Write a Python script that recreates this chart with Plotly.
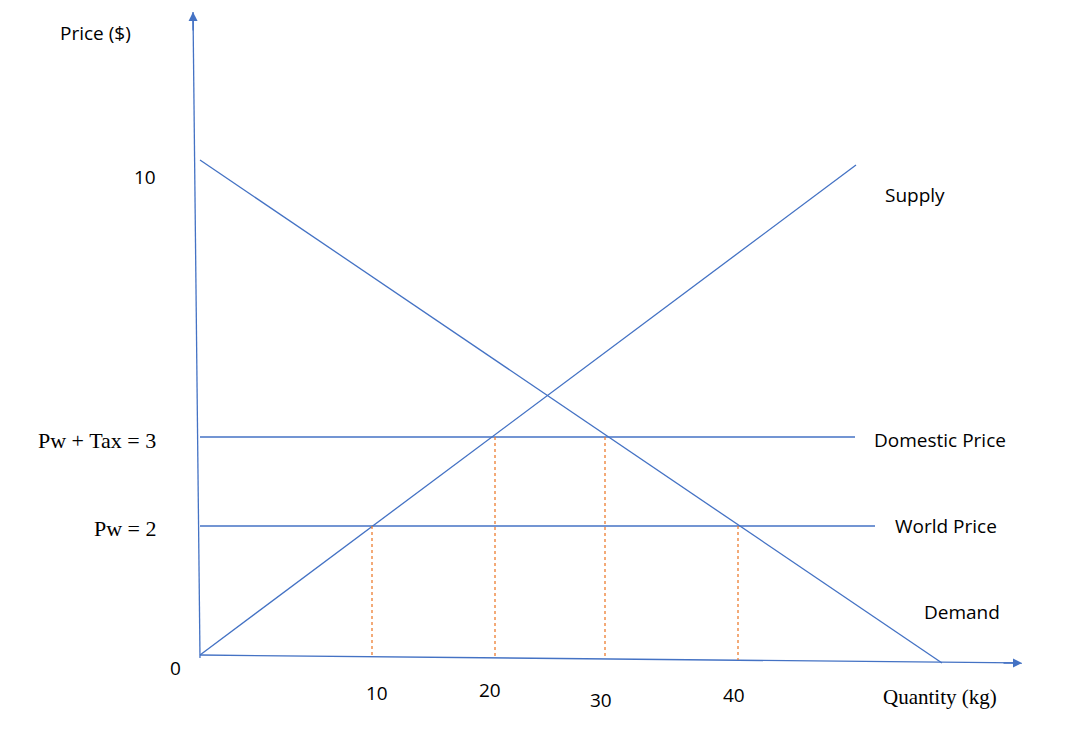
import plotly.graph_objects as go

BLUE = "#4472C4"
ORANGE = "#ED7D31"

# diagram coordinates (screen-like units)
supply_x = [200, 856]; supply_y = [655, 165]
demand_x = [200, 942]; demand_y = [160, 663]
domestic_x = [200, 855]; domestic_y = [437, 437]
world_x = [200, 875]; world_y = [526, 526]
yaxis_x = [200, 193]; yaxis_y = [658, 12]
xaxis_x = [200, 1022]; xaxis_y = [655, 663]
dash_x = [372, 495, 605, 738]
dash_top = [526, 437, 437, 526]
dash_bot = [655, 657, 658, 660]

fig = go.Figure()
def line(x, y, color=BLUE, dash="solid", w=1.3):
    fig.add_trace(go.Scatter(x=x, y=y, mode="lines", line=dict(color=color, width=w, dash=dash),
                             hoverinfo="skip", showlegend=False))

for xs, ys in [(supply_x, supply_y), (demand_x, demand_y), (domestic_x, domestic_y),
               (world_x, world_y), (yaxis_x, yaxis_y), (xaxis_x, xaxis_y)]:
    line(xs, ys)
for x, t, b in zip(dash_x, dash_top, dash_bot):
    line([x, x], [t, b], ORANGE, "dot", 1.3)

fig.add_annotation(x=yaxis_x[1], y=yaxis_y[1], ax=yaxis_x[1]+0.2, ay=yaxis_y[1]+20, xref="x", yref="y",
                   axref="x", ayref="y", showarrow=True, arrowhead=2, arrowsize=1.2, arrowwidth=1.5,
                   arrowcolor=BLUE, text="")
fig.add_annotation(x=xaxis_x[1], y=xaxis_y[1], ax=xaxis_x[1]-20, ay=xaxis_y[1], xref="x", yref="y",
                   axref="x", ayref="y", showarrow=True, arrowhead=2, arrowsize=1.2, arrowwidth=1.5,
                   arrowcolor=BLUE, text="")

sans = "Open Sans"
serif = "Liberation Serif"
labels = [
    ("Price ($)", 95, 33, sans, 19),
    ("10", 145, 177, sans, 19),
    ("Pw + Tax = 3", 97, 440, serif, 22),
    ("Pw = 2", 125, 528, serif, 22),
    ("0", 175, 668, sans, 19),
    ("10", 377, 693, sans, 19),
    ("20", 490, 690, sans, 19),
    ("30", 601, 700, sans, 19),
    ("40", 734, 695, sans, 19),
    ("Quantity (kg)", 940, 697, serif, 21),
    ("Supply", 915, 195, sans, 19),
    ("Domestic Price", 940, 440, sans, 19),
    ("World Price", 946, 526, sans, 19),
    ("Demand", 962, 612, sans, 19),
]
for t, x, y, f, s in labels:
    fig.add_annotation(x=x, y=y, text=t, showarrow=False, xref="x", yref="y",
                       font=dict(family=f, size=s, color="black"))

fig.update_layout(width=1074, height=736, margin=dict(l=0, r=0, t=0, b=0),
                  plot_bgcolor="white", paper_bgcolor="white",
                  xaxis=dict(range=[8, 1082], visible=False, fixedrange=True),
                  yaxis=dict(range=[744, 8], visible=False, fixedrange=True))
fig.write_html("out.html")
